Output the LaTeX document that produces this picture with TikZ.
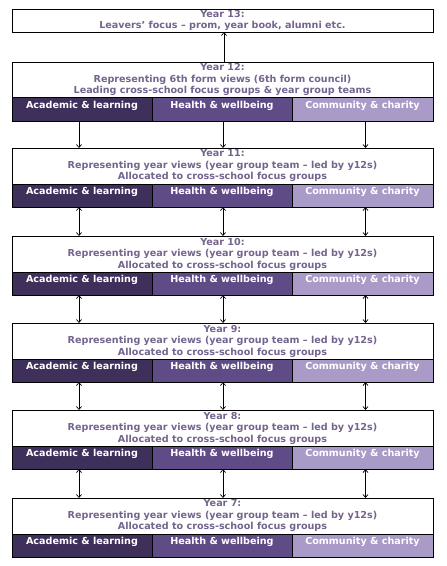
\documentclass[tikz,border=0pt]{standalone}
\usepackage{fontspec}
\setmainfont{DejaVu Sans}
\usetikzlibrary{arrows.meta,calc}
\definecolor{txt}{HTML}{75648F}
\definecolor{barA}{HTML}{3E2F5B}
\definecolor{barB}{HTML}{5F4B86}
\definecolor{barC}{HTML}{A99AC7}
\begin{document}
\begin{tikzpicture}[x=1pt,y=-1pt,
  titlebox/.style={draw=black, line width=0.8pt, fill=white, anchor=north west,
    minimum width=421pt, inner sep=0pt, outer sep=0pt, align=center, text=txt,
    font=\bfseries\fontsize{9.6}{11.5}\selectfont},
  bar/.style={anchor=north west, minimum width=140pt, minimum height=23pt,
    inner sep=0pt, outer sep=0pt, text=white, draw=black, line width=0.5pt,
    font=\bfseries\fontsize{9.6}{11.5}\selectfont, text height=7pt, text depth=9pt},
  frame/.style={draw=black, line width=0.8pt},
  tip/.tip={Straight Barb[length=3pt,width=5pt]},
  link/.style={line width=0.7pt, -tip},
  dlink/.style={line width=0.7pt, tip-tip}]
\useasboundingbox (0,0) rectangle (447,566);

% Year 13
\node[titlebox, minimum height=23pt] (t13) at (12,9)
  {Year 13:\\Leavers’ focus – prom, year book, alumni etc.};

% Year 12
\node[titlebox, minimum height=35pt] (t12) at (12,62)
  {Year 12:\\Representing 6th form views (6th form council)\\Leading cross-school focus groups \& year group teams};
\node[bar, fill=barA, minimum height=24pt] (ba12) at (12,97) {Academic \& learning};
\node[bar, fill=barB, minimum height=24pt] (bb12) at (152,97) {Health \& wellbeing};
\node[bar, fill=barC, minimum height=24pt, minimum width=141pt] (bc12) at (292,97) {Community \& charity};
\draw[frame] (t12.north west) rectangle (bc12.south east);

% Years 11 to 7
\foreach \yr/\tp in {11/148,10/236,9/323,8/410,7/498}{
  \node[titlebox, minimum height=36pt] (t\yr) at (12,\tp)
    {Year \yr:\\Representing year views (year group team – led by y12s)\\Allocated to cross-school focus groups};
  \node[bar, fill=barA] (ba\yr) at (12,\tp+36) {Academic \& learning};
  \node[bar, fill=barB] (bb\yr) at (152,\tp+36) {Health \& wellbeing};
  \node[bar, fill=barC, minimum width=141pt] (bc\yr) at (292,\tp+36) {Community \& charity};
  \draw[frame] (t\yr.north west) rectangle (bc\yr.south east);
}

% connectors
\draw[link] (t12.north -| 224,0) -- (t13.south -| 224,0);
\draw[link] ($(ba12.south)+(-3,0)$) -- ($(t11.north -| ba12.south)+(-3,0)$);
\draw[link] ($(bb12.south)+(1,0)$) -- ($(t11.north -| bb12.south)+(1,0)$);
\draw[link] ($(bc12.south)+(3,0)$) -- ($(t11.north -| bc12.south)+(3,0)$);
\foreach \a/\b in {11/10,10/9,9/8,8/7}{
  \draw[dlink] ($(ba\a.south)+(-3,0)$) -- ($(t\b.north -| ba\a.south)+(-3,0)$);
  \draw[dlink] ($(bb\a.south)+(1,0)$) -- ($(t\b.north -| bb\a.south)+(1,0)$);
  \draw[dlink] ($(bc\a.south)+(3,0)$) -- ($(t\b.north -| bc\a.south)+(3,0)$);
}
\end{tikzpicture}
\end{document}
